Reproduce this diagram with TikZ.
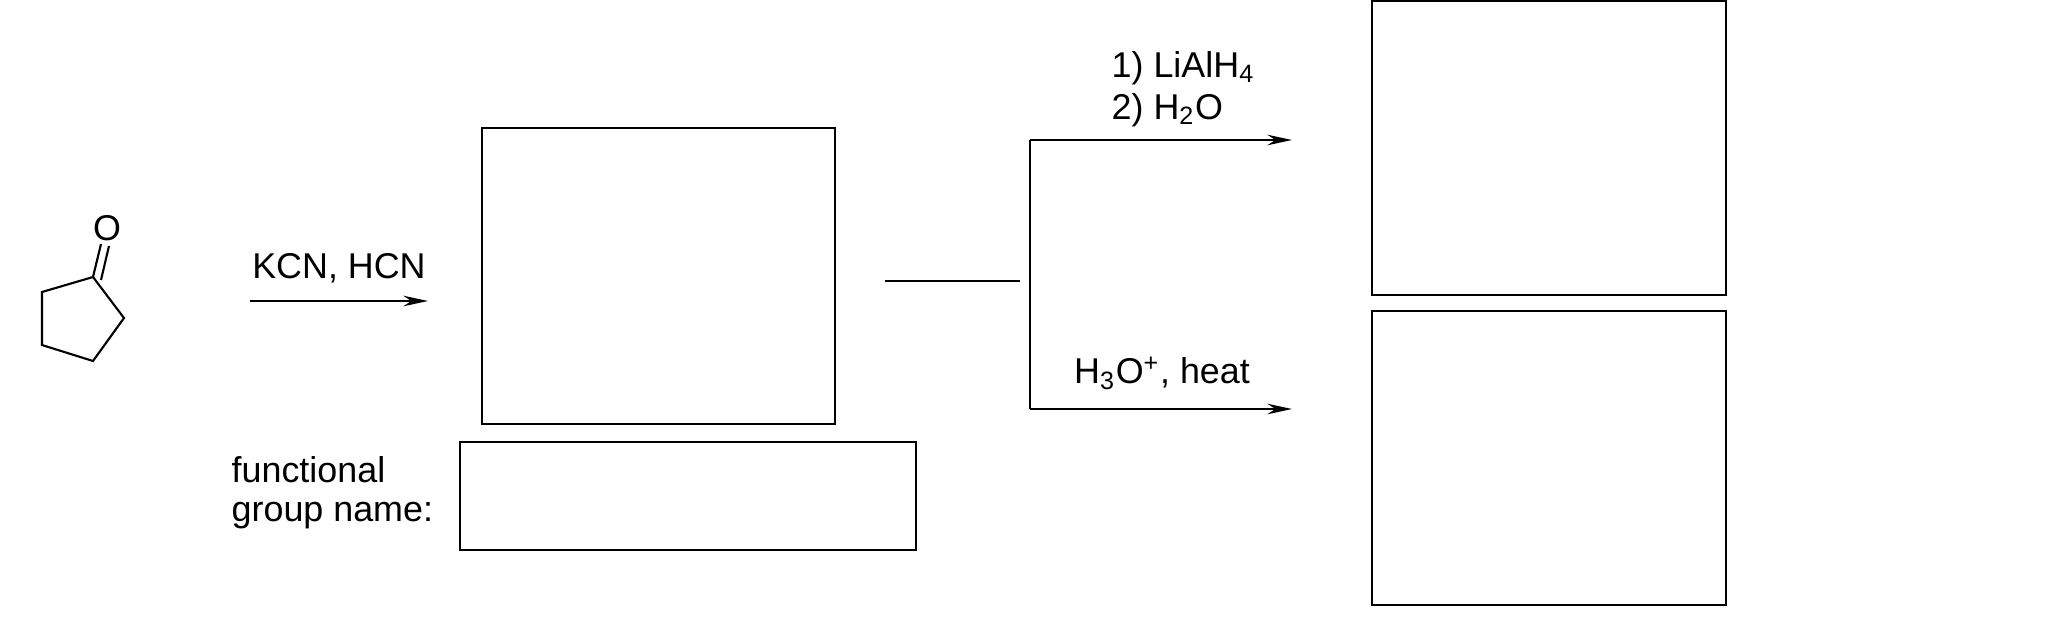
\documentclass[tikz,border=0pt]{standalone}
\usepackage{fontspec}
\setmainfont{Liberation Sans}
\usetikzlibrary{arrows.meta,calc}
\newcommand{\sbs}[1]{\textsubscript{#1}}
\newcommand{\sps}[1]{\textsuperscript{#1}}
\begin{document}
\begin{tikzpicture}[x=0.01cm,y=-0.01cm,
  bx/.style={draw,line width=0.6pt},
  bond/.style={line width=0.6pt},
  rx/.style={line width=0.6pt,-{Stealth[length=7pt,width=3pt]}},
  lbl/.style={font=\fontsize{10.2}{12}\selectfont,inner sep=0pt}]
\useasboundingbox (0,0) rectangle (2050,636);
% cyclopentanone
\coordinate (c1) at (93,277);
\coordinate (c2) at (42,292);
\coordinate (c3) at (42,345);
\coordinate (c4) at (93,361);
\coordinate (c5) at (124,318);
\node[lbl] (o) at (107,228) {O};
\draw[bond] (c1)--(c2)--(c3)--(c4)--(c5)--cycle;
\draw[bond] (c1)--(101,244);
\draw[bond] ($(c1)+(8,3)$)--(109,246);
% arrow 1
\coordinate (a1s) at (250,301);
\coordinate (a1e) at (428,301);
\draw[rx] (a1s)--(a1e);
\node[lbl] (kcn) at (339,268) {KCN, HCN};
% boxes
\draw[bx] (482,128) rectangle (835,424);
\draw[bx] (460,442) rectangle (916,550);
\node[lbl,anchor=west,align=left] (fg) at (231,493) {functional\\[-1pt]group name:};
\draw[bx] (1372,1) rectangle (1726,295);
\draw[bx] (1372,311) rectangle (1726,605);
% branching
\coordinate (h1) at (885,281);
\coordinate (h2) at (1020,281);
\draw[bond] (h1)--(h2);
\coordinate (vt) at (1030,140);
\coordinate (vb) at (1030,409);
\draw[bond] (vt)--(vb);
\coordinate (ut) at (1292,140);
\coordinate (lt) at (1292,409);
\draw[rx] (vt)--(ut);
\draw[rx] (vb)--(lt);
\node[lbl,anchor=west] (r1) at (1111,68) {1) LiAlH\sbs{4}};
\node[lbl,anchor=west] (r2) at (1111,110) {2) H\sbs{2}O};
\node[lbl] (r3) at (1162,373) {H\sbs{3}O\sps{+}, heat};
\end{tikzpicture}
\end{document}
